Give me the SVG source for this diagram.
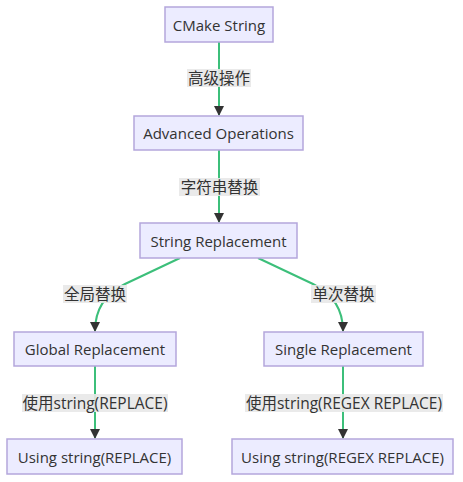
<svg xmlns="http://www.w3.org/2000/svg" width="463" height="482" viewBox="0 0 463 482">
<style>
.node rect{fill:#ECECFF;stroke:#B4A6DC;stroke-width:1.5}
.node text{font-family:"Open Sans","DejaVu Sans",sans-serif;font-size:15px;fill:#333;text-anchor:middle;dominant-baseline:central}
.edge{fill:none;stroke:#3CBF7A;stroke-width:2}
.lbl rect{fill:#E8E8E8;opacity:0.9}
.lbl text{font-family:"Open Sans","Noto Sans CJK SC",sans-serif;font-size:15.5px;fill:#333;text-anchor:middle;dominant-baseline:central}
</style>
<defs>
<marker id="arr" viewBox="0 0 10 10" refX="9" refY="5" markerWidth="5" markerHeight="5" orient="auto" markerUnits="strokeWidth">
<path d="M0,0 L10,5 L0,10 z" fill="#333"/>
</marker>
</defs>
<rect width="463" height="482" fill="#fff"/>
<g id="connectors">
<path class="edge" d="M219,42 L219,115" marker-end="url(#arr)"/>
<path class="edge" d="M219,150 L219,222" marker-end="url(#arr)"/>
<path class="edge" d="M180,258 L125,284 Q95,299 95,331" marker-end="url(#arr)"/>
<path class="edge" d="M258,258 L313,284 Q343,299 343,331" marker-end="url(#arr)"/>
<path class="edge" d="M95,366 L95,438" marker-end="url(#arr)"/>
<path class="edge" d="M343,366 L343,438" marker-end="url(#arr)"/>
<g class="lbl"><rect x="187" y="69" width="64" height="18"/><text x="219" y="78">高级操作</text></g>
<g class="lbl"><rect x="179" y="178" width="81" height="18"/><text x="219.5" y="187">字符串替换</text></g>
<g class="lbl"><rect x="63" y="285" width="64" height="18"/><text x="95" y="294">全局替换</text></g>
<g class="lbl"><rect x="311" y="285" width="65" height="18"/><text x="343.5" y="294">单次替换</text></g>
<g class="lbl"><rect x="22" y="394" width="146" height="18"/><text x="95" y="403">使用string(REPLACE)</text></g>
<g class="lbl"><rect x="245" y="394" width="198" height="18"/><text x="344" y="403">使用string(REGEX REPLACE)</text></g>
</g>
<g id="n1" class="node"><rect x="165" y="7" width="108" height="35"/><text x="219" y="25">CMake String</text></g>
<g id="n2" class="node"><rect x="134" y="116" width="169" height="34"/><text x="218.5" y="133">Advanced Operations</text></g>
<g id="n3" class="node"><rect x="140" y="223" width="157" height="35"/><text x="218.5" y="241">String Replacement</text></g>
<g id="n4" class="node"><rect x="14" y="332" width="162" height="34"/><text x="95" y="349">Global Replacement</text></g>
<g id="n5" class="node"><rect x="264" y="332" width="159" height="34"/><text x="343.5" y="349">Single Replacement</text></g>
<g id="n6" class="node"><rect x="7" y="439" width="175" height="35"/><text x="94.5" y="457">Using string(REPLACE)</text></g>
<g id="n7" class="node"><rect x="232" y="439" width="221" height="35"/><text x="342.5" y="457">Using string(REGEX REPLACE)</text></g>
</svg>
